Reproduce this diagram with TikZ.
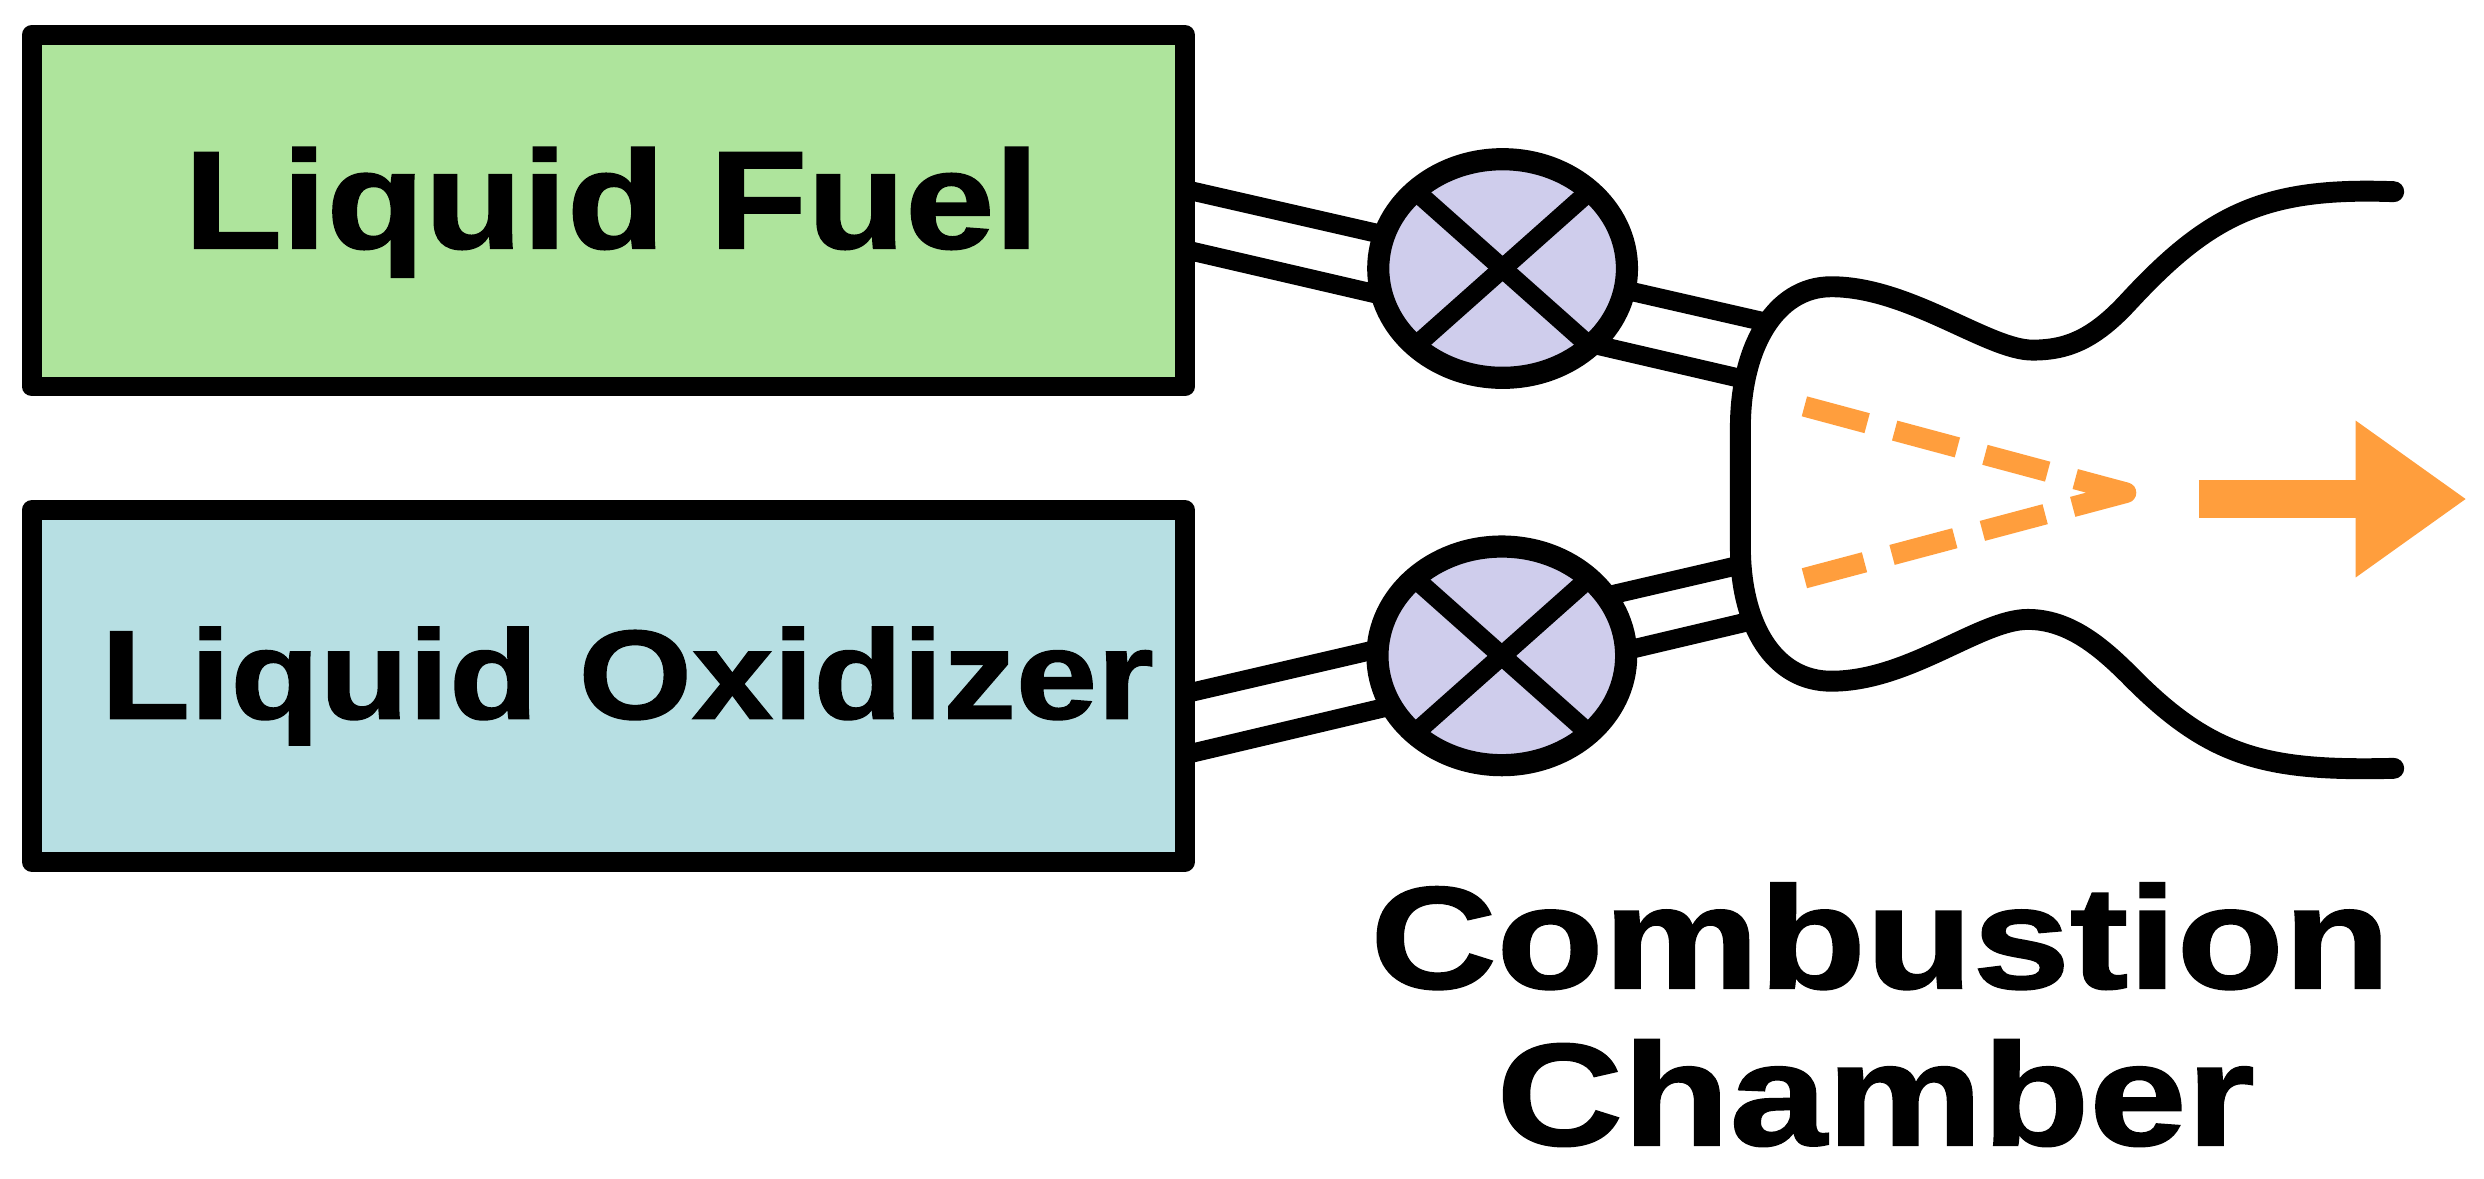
\documentclass[tikz,border=0pt]{standalone}
\usepackage{fontspec}
\setmainfont{Liberation Sans}
\newfontfamily\labfont[FakeBold=1.2]{Liberation Sans Bold}
\usetikzlibrary{arrows.meta,shapes.geometric}
\definecolor{fuelgreen}{HTML}{AEE49C}
\definecolor{oxblue}{HTML}{B7DFE3}
\definecolor{valvefill}{HTML}{CFCDEC}
\definecolor{flame}{HTML}{FF9E3D}
\tikzset{
  tank/.style={draw=black,line width=6.2pt,line join=round,minimum width=364pt,minimum height=111pt,inner sep=0pt},
  pipe/.style={draw=black,line width=6pt},
  valve/.style={draw=black,line width=7pt,fill=valvefill,ellipse,minimum width=78.5pt,minimum height=69pt,inner sep=0pt},
  crossbar/.style={draw=black,line width=6pt,shorten >=1.5pt,shorten <=1.5pt},
  wall/.style={draw=black,line width=6.6pt,line cap=round,line join=round},
  lab/.style={inner sep=0pt},
}
\begin{document}
\begin{tikzpicture}[x=0.5pt,y=-0.5pt]
\useasboundingbox (0,0) rectangle (1568,744);
\fill[white] (0,0) rectangle (1568,744);
\node[tank,fill=fuelgreen] (fuel) at (384,133) {};
\node[tank,fill=oxblue] (ox) at (384,433) {};
\node[lab,font=\labfont\fontsize{44}{46}\selectfont] (fuellab) at (386,134) {\scalebox{1.15}[1]{Liquid Fuel}};
\node[lab,font=\labfont\fontsize{40}{42}\selectfont] (oxlab) at (396,433) {\scalebox{1.15}[1]{Liquid Oxidizer}};
\coordinate (f1a) at (752,120.5); \coordinate (f1b) at (752,158.5);
\coordinate (f2a) at (1113,203); \coordinate (f2b) at (1097,238.5);
\coordinate (o1a) at (752,437); \coordinate (o1b) at (752,475.5);
\coordinate (o2a) at (1097,357); \coordinate (o2b) at (1101,393);
\draw[pipe] (f1a) -- (f2a);
\draw[pipe] (f1b) -- (f2b);
\draw[pipe] (o1a) -- (o2a);
\draw[pipe] (o1b) -- (o2b);
\node[valve] (v1) at (948.5,169.5) {};
\node[valve] (v2) at (948,414) {};
\draw[crossbar] (v1.north west) -- (v1.south east);
\draw[crossbar] (v1.north east) -- (v1.south west);
\draw[crossbar] (v2.north west) -- (v2.south east);
\draw[crossbar] (v2.north east) -- (v2.south west);
\draw[wall] (1511,121) .. controls (1430,118) and (1395,135) .. (1344,190)
  .. controls (1322,214) and (1305,221) .. (1283,221)
  .. controls (1255,221) and (1205,181) .. (1156,181)
  .. controls (1120,181) and (1098.6,220) .. (1098.6,270)
  -- (1098.6,345)
  .. controls (1098.6,395) and (1120,430) .. (1156,430)
  .. controls (1205,430) and (1250,391) .. (1280,391)
  .. controls (1305,391) and (1325,407) .. (1344,426)
  .. controls (1395,478) and (1430,487) .. (1511,485);
\coordinate (apex) at (1342,311);
\coordinate (c1) at (1139,256.5);
\coordinate (c2) at (1139,365);
\draw[flame,line width=6.5pt,line join=round,dash pattern=on 20.5pt off 9pt on 20.5pt off 9pt on 20.5pt off 9pt on 34pt off 9pt on 20.5pt off 9pt on 20.5pt off 9pt on 20.5pt off 9pt]
  (c1) -- (apex) -- (c2);
\coordinate (as) at (1388,315);
\coordinate (ae) at (1557,315);
\draw[flame,line width=12pt,-{Triangle[length=35pt,width=47pt]}] (as) -- (ae);
\node[lab,font=\labfont\fontsize{46}{48}\selectfont] (c1lab) at (1187,591) {\scalebox{1.2}[1]{Combustion}};
\node[lab,font=\labfont\fontsize{46}{48}\selectfont] (c2lab) at (1184,690) {\scalebox{1.2}[1]{Chamber}};
\end{tikzpicture}
\end{document}
